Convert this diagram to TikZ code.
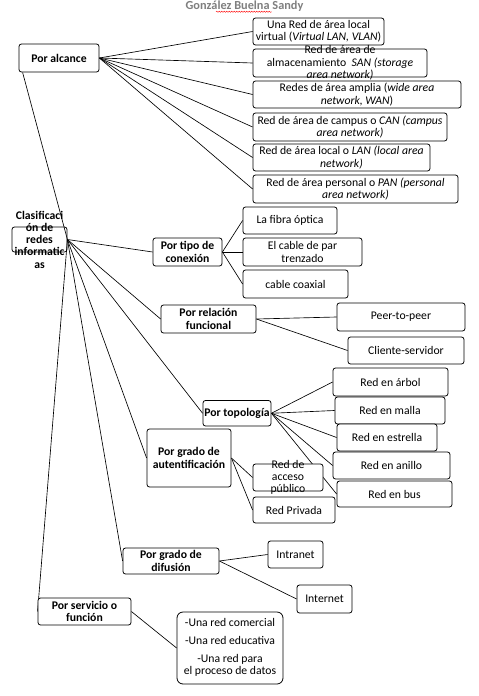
\documentclass[tikz,border=0pt]{standalone}
\usepackage{fontspec}
\setmainfont{Carlito}
\usetikzlibrary{decorations.pathmorphing}
\pgfdeclarelayer{paper}
\pgfdeclarelayer{background}
\pgfsetlayers{paper,background,main}
\definecolor{titlegray}{HTML}{7F7F7F}
\tikzset{
  box/.style={draw=black, line width=0.8pt, rounded corners=2.5pt, fill=white, inner sep=0pt},
  txt/.style={align=center, inner sep=0pt, font=\fontsize{11.7}{12.3}\selectfont},
  btxt/.style={txt, font=\fontsize{11.7}{12.3}\selectfont\bfseries},
  conn/.style={draw=black, line width=0.65pt},
}
\newcommand\bx[7][txt]{%
  \node[box, minimum width={(#5-#3)*1pt}, minimum height={(#6-#4)*1pt}] (#2) at ({(#3+#5)/2},{(#4+#6)/2}) {};
  \node[#1] (#2t) at (#2.center) {#7};}
\begin{document}
\begin{tikzpicture}[x=1pt,y=-1pt]
\begin{pgfonlayer}{paper}
\fill[white] (0,0) rectangle (479,696);
\end{pgfonlayer}
\useasboundingbox (0,0) rectangle (479,696);
% title
\node[font=\fontsize{12.3}{13}\selectfont\bfseries, text=titlegray, inner sep=0pt] (title) at (244.5,6.5) {González Buelna Sandy};
\coordinate (wl) at (216,11.8);
\coordinate (wr) at (271.5,11.8);
\draw[red, line width=0.4pt, decorate, decoration={snake, amplitude=0.6pt, segment length=2.5pt}] (wl) -- (wr);
% root
\node[draw=black, line width=0.8pt, rounded corners=2.5pt, inner sep=0pt, minimum width=55pt, minimum height=25pt] (root) at (39.5,239.5) {};
\node[btxt] (roott) at (39.5,239.6) {Clasificaci\\ón de\\redes\\informatic\\as};
% level 1
\bx[btxt]{al}{19}{44}{99}{72}{Por alcance}
\bx[btxt]{tipo}{153}{238}{222}{266}{Por tipo de\\conexión}
\bx[btxt]{rel}{161}{305}{256}{333}{Por relación\\funcional}
\bx[btxt]{top}{203}{400.5}{271}{426}{Por topología}
\bx[btxt]{aut}{147}{429}{231}{487}{Por grado de\\autentificación}
\bx[btxt]{dif}{123}{548}{219}{574}{Por grado de\\difusión}
\bx[btxt]{ser}{38}{598}{131}{625}{Por servicio o\\función}
% alcance children
\bx{a1}{253}{18}{384}{45}{Una Red de área local\\virtual (\textit{Virtual LAN, VLAN})}
\bx{a2}{253}{49}{427}{77}{Red de área de\\almacenamiento\ \ \textit{SAN (storage}\\\textit{area network)}}
\bx{a3}{253}{81}{461}{108}{Redes de área amplia (\textit{wide area}\\\textit{network, WAN})}
\bx{a4}{253}{113}{447}{141}{Red de área de campus o \textit{CAN (campus}\\\textit{area network)}}
\bx{a5}{253}{144}{430}{171}{Red de área local o \textit{LAN (local area}\\\textit{network)}}
\bx{a6}{253}{175}{458}{203}{Red de área personal o \textit{PAN (personal}\\\textit{area network)}}
% tipo children
\bx{t1}{243}{207}{337}{234}{La fibra óptica}
\bx{t2}{243}{238}{362}{266}{El cable de par\\trenzado}
\bx{t3}{243}{270}{348}{298}{cable coaxial}
% relacion children
\bx{r1}{337}{303}{465}{331}{Peer-to-peer}
\bx{r2}{348}{337}{464}{364}{Cliente-servidor}
% topologia children
\bx{p1}{333}{368}{448}{396}{Red en árbol}
\bx{p2}{335}{397}{445}{424}{Red en malla}
\bx{p3}{337}{424}{437}{451}{Red en estrella}
\bx{p4}{333}{452}{450}{479}{Red en anillo}
\bx{p5}{337}{481}{452}{507}{Red en bus}
% autentificacion children
\bx{u1}{253}{464}{323}{491}{Red de\\acceso\\público}
\bx{u2}{253}{497}{335}{523}{Red Privada}
% difusion children
\bx{d1}{268}{541}{323}{568}{Intranet}
\bx{d2}{297}{585}{352}{613}{Internet}
% servicio child
\node[box, rounded corners=6pt, minimum width=106pt, minimum height=72pt] (s1) at (230,648) {};
\node[txt] (s1t) at (230,647.5) {-Una red comercial\\[5.5pt]-Una red educativa\\[5.5pt]-Una red para\\el proceso de datos};
% connectors
\begin{pgfonlayer}{background}
\draw[conn] (root.east) -- ([xshift=4pt]al.south west);
\foreach \n in {tipo,rel,top,aut,dif,ser} \draw[conn] (root.east) -- (\n.west);
\foreach \n in {a1,a2,a3,a4,a5,a6} \draw[conn] (al.east) -- (\n.west);
\foreach \n in {t1,t2,t3} \draw[conn] (tipo.east) -- (\n.west);
\foreach \n in {r1,r2} \draw[conn] (rel.east) -- (\n.west);
\foreach \n in {p1,p2,p3,p4,p5} \draw[conn] (top.east) -- (\n.west);
\foreach \n in {u1,u2} \draw[conn] (aut.east) -- (\n.west);
\foreach \n in {d1,d2} \draw[conn] (dif.east) -- (\n.west);
\draw[conn] (ser.east) -- (s1.west);
\end{pgfonlayer}
\end{tikzpicture}
\end{document}
